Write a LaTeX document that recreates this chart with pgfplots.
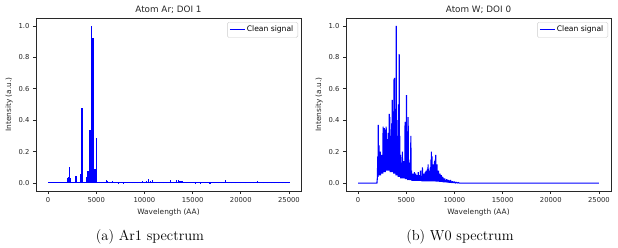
\documentclass[border=0pt]{standalone}
\usepackage{fontspec}
\usepackage{pgfplots}
\pgfplotsset{compat=1.18}
\newfontfamily\dejavu{DejaVu Sans}
\definecolor{spine}{RGB}{40,40,40}

\pgfplotstableread{
x h
1950 0.01
2050 0.03
2150 0.04
2200 0.10
2250 0.10
2300 0.03
2350 0.02
2500 0.005
2700 0.01
2900 0.045
3000 0.01
3200 0.005
3350 0.02
3420 0.06
3530 0.48
3600 0.02
3800 0.01
3950 0.04
4050 0.03
4120 0.08
4160 0.06
4200 0.07
4240 0.08
4280 0.34
4300 0.34
4320 0.34
4340 0.25
4360 0.20
4380 0.30
4400 0.34
4420 0.08
4440 0.08
4480 0.5
4510 1.00
4530 1.00
4550 0.6
4570 0.30
4600 0.5
4620 0.92
4640 0.92
4660 0.92
4680 0.3
4700 0.09
4725 0.09
4750 0.09
4775 0.08
4800 0.09
4825 0.09
4850 0.09
4875 0.07
4900 0.06
4930 0.09
4960 0.09
4990 0.2
5010 0.29
5030 0.29
5050 0.29
5100 0.01
5300 0.005
5600 0.005
6050 0.02
6150 0.015
6400 0.005
6550 0.01
6700 0.012
6900 0.005
7300 0.004
7800 0.004
8300 0.005
8800 0.01
9000 0.01
9300 0.006
9600 0.008
9800 0.012
10000 0.01
10200 0.012
10400 0.025
10600 0.015
10800 0.02
11000 0.01
11300 0.008
11600 0.01
12000 0.008
12300 0.01
12700 0.02
13000 0.008
13350 0.02
13500 0.02
13700 0.015
13900 0.012
14100 0.01
14400 0.006
14800 0.005
15300 0.004
15800 0.004
16300 0.005
16800 0.004
17300 0.006
17700 0.008
18000 0.01
18200 0.01
18400 0.02
18700 0.008
19000 0.006
19500 0.005
20000 0.006
20500 0.005
21000 0.008
21300 0.01
21700 0.012
22000 0.01
22400 0.01
22800 0.006
23200 0.01
23500 0.008
23900 0.006
24300 0.008
24700 0.01
25000 0.005
}\arspec

\pgfplotstableread{
x y
0 0
1900 0
1960 0.0
2000 0.03
2050 0.17
2075 0.04
2100 0.37
2135 0.05
2170 0.24
2200 0.05
2230 0.15
2265 0.05
2300 0.2
2340 0.05
2380 0.12
2415 0.06
2450 0.18
2485 0.06
2520 0.15
2560 0.06
2600 0.36
2630 0.07
2660 0.25
2690 0.07
2720 0.35
2755 0.07
2790 0.2
2820 0.07
2850 0.34
2885 0.08
2920 0.36
2950 0.08
2980 0.22
3015 0.08
3050 0.28
3085 0.08
3120 0.32
3150 0.08
3180 0.2
3210 0.08
3240 0.44
3270 0.08
3300 0.42
3330 0.07
3360 0.3
3390 0.07
3420 0.25
3450 0.07
3480 0.38
3515 0.07
3550 0.53
3575 0.07
3600 0.32
3630 0.07
3660 0.4
3690 0.06
3720 0.66
3750 0.1
3780 0.67
3810 0.06
3840 0.3
3870 0.06
3900 0.45
3930 0.05
3960 1.0
3990 0.05
4020 0.4
4050 0.05
4080 0.3
4110 0.05
4140 0.25
4170 0.04
4200 0.5
4235 0.04
4270 0.82
4300 0.04
4330 0.3
4365 0.04
4400 0.18
4430 0.03
4460 0.13
4490 0.03
4520 0.1
4560 0.03
4600 0.2
4630 0.03
4660 0.12
4690 0.03
4720 0.14
4760 0.03
4800 0.1
4840 0.03
4880 0.39
4910 0.025
4940 0.2
4985 0.025
5030 0.56
5065 0.025
5100 0.25
5150 0.02
5200 0.42
5230 0.02
5260 0.15
5295 0.02
5330 0.1
5365 0.02
5400 0.13
5440 0.02
5480 0.3
5515 0.02
5550 0.08
5585 0.015
5620 0.05
5660 0.015
5700 0.06
5740 0.015
5780 0.04
5815 0.015
5850 0.07
5885 0.015
5920 0.05
5960 0.015
6000 0.06
6040 0.015
6080 0.04
6115 0.015
6150 0.05
6200 0.015
6250 0.07
6290 0.015
6330 0.04
6365 0.015
6400 0.05
6440 0.015
6480 0.08
6520 0.015
6560 0.04
6620 0.012
6680 0.1
6715 0.012
6750 0.05
6790 0.012
6830 0.06
6865 0.012
6900 0.04
6940 0.012
6980 0.07
7020 0.012
7060 0.08
7095 0.012
7130 0.05
7165 0.012
7200 0.09
7235 0.012
7270 0.12
7305 0.012
7340 0.06
7380 0.012
7420 0.08
7460 0.012
7500 0.1
7530 0.012
7560 0.15
7585 0.012
7610 0.2
7645 0.012
7680 0.17
7710 0.012
7740 0.1
7770 0.012
7800 0.12
7835 0.012
7870 0.08
7905 0.012
7940 0.14
7970 0.012
8000 0.15
8030 0.012
8060 0.18
8095 0.01
8130 0.1
8165 0.01
8200 0.12
8235 0.01
8270 0.06
8310 0.01
8350 0.08
8385 0.01
8420 0.05
8460 0.008
8500 0.06
8540 0.008
8580 0.04
8615 0.008
8650 0.05
8690 0.008
8730 0.03
8765 0.006
8800 0.04
8850 0.006
8900 0.03
8950 0.005
9000 0.03
9050 0.005
9100 0.02
9150 0.005
9200 0.025
9250 0.004
9300 0.02
9350 0.004
9400 0.02
9450 0.003
9500 0.015
9550 0.003
9600 0.02
9650 0.003
9700 0.01
9750 0.002
9800 0.012
9850 0.002
9900 0.008
9950 0.002
10000 0.01
10100 0.001
10200 0.005
10300 0.001
10400 0.004
10500 0.0
25000 0
}\wspec

\pgfplotsset{
  spec/.style={
    scale only axis, width=265pt, height=173pt,
    xmin=-1250, xmax=26250, ymin=-0.05, ymax=1.05,
    xtick={0,5000,10000,15000,20000,25000},
    ytick={0,0.2,0.4,0.6,0.8,1.0},
    scaled x ticks=false,
    xticklabel style={/pgf/number format/1000 sep={}},
    yticklabel style={/pgf/number format/fixed, /pgf/number format/precision=1, /pgf/number format/fixed zerofill},
    /pgf/number format/assume math mode=true,
    xtick pos=bottom, ytick pos=left,
    tick align=outside, major tick length=3pt,
    tick style={spine, line width=0.6pt},
    axis line style={spine, line width=0.6pt},
    ticklabel style={font=\dejavu\fontsize{6.8}{7}\selectfont, text=black!85},
    xticklabel style={yshift=0.5pt},
    label style={font=\dejavu\fontsize{7.4}{8}\selectfont, text=black!85},
    xlabel style={at={(axis description cs:0.5,0)}, anchor=center, yshift=-21pt},
    ylabel style={at={(axis description cs:-0.102,0.5)}, anchor=center},
    every axis title shift=0pt,
    title style={font=\dejavu\fontsize{8.8}{9}\selectfont, text=black!85, at={(axis description cs:0.5,1)}, anchor=center, yshift=8pt},
    xlabel={Wavelength (AA)}, ylabel={Intensity (a.u.)},
    legend style={at={(1,1)}, anchor=north east, xshift=-3pt, yshift=-4pt,
      draw=black!20, rounded corners=1.5pt, font=\dejavu\fontsize{7.6}{8}\selectfont,
      inner xsep=2.5pt, inner ysep=2pt},
    legend cell align=left,
    legend image code/.code={\node[inner sep=0pt, anchor=west] at (0pt,0pt) {\textcolor{blue}{\rule[-0.65pt]{15pt}{1.4pt}}};},
  }
}

\begin{document}
\begin{tikzpicture}[x=1pt,y=1pt]
\useasboundingbox (0,0) rectangle (618,247);

\begin{axis}[spec, at={(36pt,56pt)}, anchor=south west, title={Atom Ar; DOI 1}]
\addplot[color=blue, line width=1.3pt, no marks] coordinates {(0,0.002) (25000,0.002)};
\addlegendentry{Clean signal}
\addplot[blue, line width=1.2pt, ycomb, forget plot] table[x=x, y=h] {\arspec};
\end{axis}

\begin{axis}[spec, at={(346pt,56pt)}, anchor=south west, title={Atom W; DOI 0}]
\addplot[color=blue, line width=1.1pt, no marks, line join=miter, miter limit=2] table[x=x, y=y] {\wspec};
\addlegendentry{Clean signal}
\end{axis}

\node[font=\fontsize{14.5}{16}\selectfont] at (150,10) {(a) Ar1 spectrum};
\node[font=\fontsize{14.5}{16}\selectfont] at (460,10) {(b) W0 spectrum};
\end{tikzpicture}
\end{document}
